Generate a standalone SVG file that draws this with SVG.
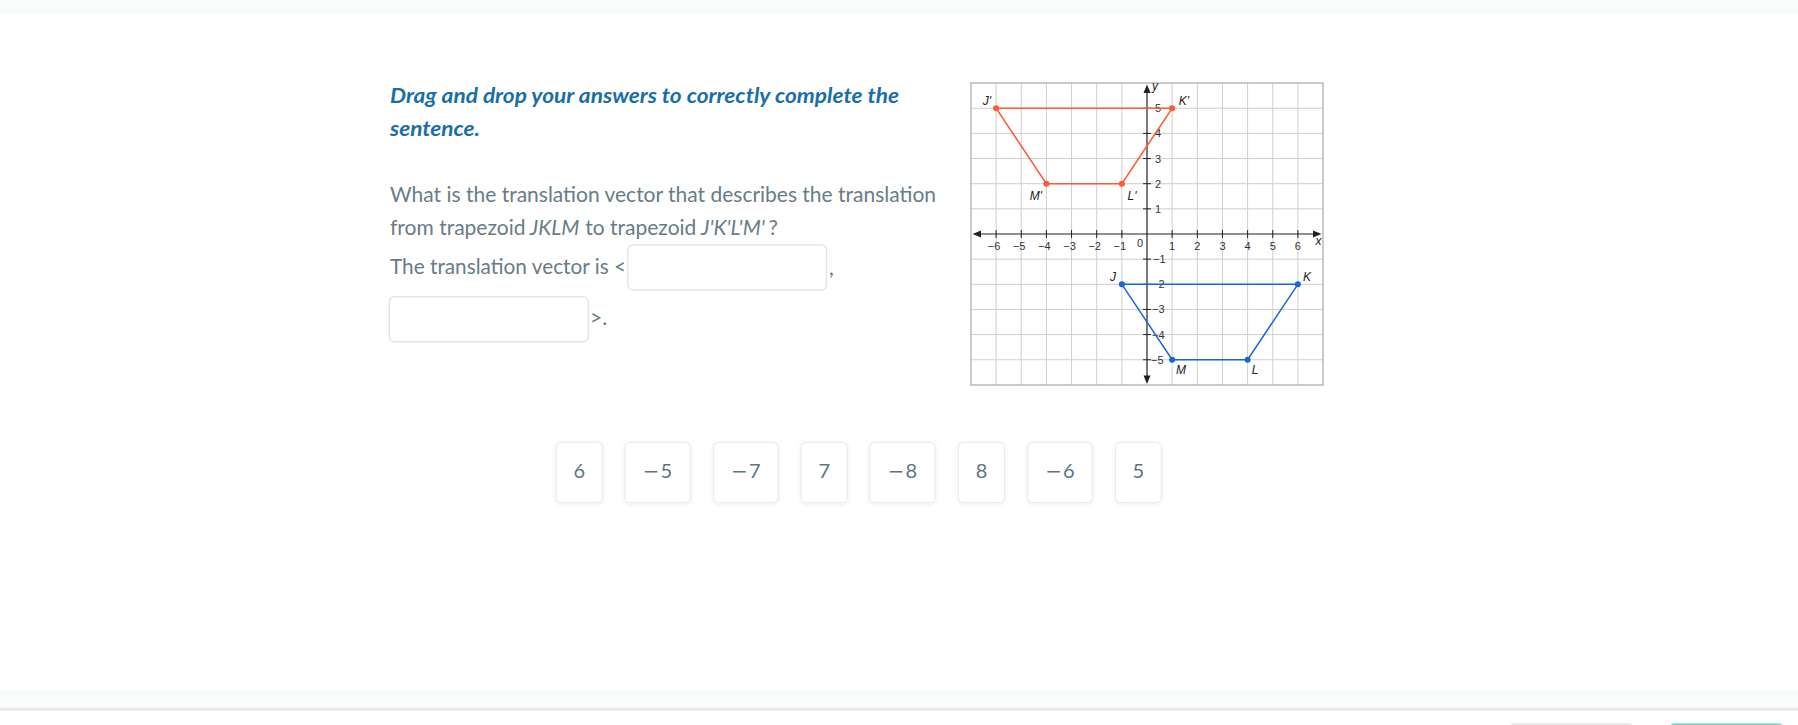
<svg xmlns="http://www.w3.org/2000/svg" width="1798" height="725" viewBox="0 0 1798 725">
<defs>
<style>
.title{font-family:Lato,"Open Sans",sans-serif;font-weight:bold;font-style:italic;font-size:21px;fill:#1a6ea8}
.q{font-family:Lato,"Open Sans",sans-serif;font-size:21px;fill:#687c86}
.it{font-style:italic}
.box{fill:#fff;stroke:#e4e6e6;stroke-width:1.5}
.tile{fill:#fff;stroke:#ececec;stroke-width:1.2;filter:url(#sh)}
.tt{font-family:Lato,"Open Sans",sans-serif;font-size:20px;fill:#5f7480;text-anchor:middle}
.mn{font-family:"DejaVu Sans",sans-serif}
.grid{stroke:#cfcfcf;stroke-width:1;fill:none}
.ax{stroke:#222;stroke-width:1.2;fill:none}
.tick{stroke:#222;stroke-width:1}
.num{font-family:"Liberation Sans",Arial,sans-serif;font-size:11px;fill:#333}
.lbl{font-family:"Liberation Sans",Arial,sans-serif;font-size:12px;font-style:italic;fill:#222;text-anchor:middle}
.red{stroke:#ff5a36;stroke-width:1.5;fill:none}
.blue{stroke:#1a66d6;stroke-width:1.5;fill:none}
</style>
<filter id="sh" x="-20%" y="-20%" width="140%" height="140%">
<feDropShadow dx="0" dy="1" stdDeviation="2" flood-color="#000" flood-opacity="0.08"/>
</filter>
</defs>
<rect x="0" y="0" width="1798" height="725" fill="#fff"/>
<rect x="0" y="0" width="1798" height="14" fill="#fafcfb"/>
<rect x="0" y="690" width="1798" height="18" fill="#fafcfb"/>
<rect x="0" y="707.7" width="1798" height="3" fill="#e8e8e8"/>
<rect x="1510" y="723.3" width="123" height="10" rx="4" fill="#e9e9e9"/>
<rect x="1670" y="723.3" width="113" height="10" rx="4" fill="#80d8cb"/>

<g id="prompt">
<text class="title" x="390" y="103.3" textLength="509" lengthAdjust="spacingAndGlyphs">Drag and drop your answers to correctly complete the</text>
<text class="title" x="390" y="135.7" textLength="90" lengthAdjust="spacingAndGlyphs">sentence.</text>
<text class="q" x="390" y="202.3" textLength="546" lengthAdjust="spacingAndGlyphs">What is the translation vector that describes the translation</text>
<text class="q" y="235"><tspan x="390">from trapezoid</tspan><tspan class="it" x="529.8">JKLM</tspan><tspan x="585.3">to trapezoid</tspan><tspan class="it" x="701">J'K'L'M'</tspan><tspan x="768.4">?</tspan></text>
<text class="q" x="390" y="274" textLength="236" lengthAdjust="spacingAndGlyphs">The translation vector is &lt;</text>
<text class="q" x="829" y="275">,</text>
<text class="q" x="590" y="325">&gt;.</text>
</g>
<g id="blank1"><rect class="box" x="627.8" y="245" width="198.7" height="45" rx="5"/></g>
<g id="blank2"><rect class="box" x="389.2" y="296.7" width="199.1" height="45" rx="5"/></g>

<g id="tiles">
<g id="t1"><rect class="tile" x="556.3" y="442.3" width="46.1" height="60.4" rx="5"/><text class="tt" x="579.4" y="477.7">6</text></g>
<g id="t2"><rect class="tile" x="624.9" y="442.3" width="65.3" height="60.4" rx="5"/><text class="tt" x="657.5" y="477.7"><tspan class="mn">−</tspan><tspan dx="1">5</tspan></text></g>
<g id="t3"><rect class="tile" x="713.5" y="442.3" width="64.5" height="60.4" rx="5"/><text class="tt" x="745.8" y="477.7"><tspan class="mn">−</tspan><tspan dx="1">7</tspan></text></g>
<g id="t4"><rect class="tile" x="801.2" y="442.3" width="46.1" height="60.4" rx="5"/><text class="tt" x="824.3" y="477.7">7</text></g>
<g id="t5"><rect class="tile" x="869.8" y="442.3" width="65.3" height="60.4" rx="5"/><text class="tt" x="902.5" y="477.7"><tspan class="mn">−</tspan><tspan dx="1">8</tspan></text></g>
<g id="t6"><rect class="tile" x="958.4" y="442.3" width="46.1" height="60.4" rx="5"/><text class="tt" x="981.5" y="477.7">8</text></g>
<g id="t7"><rect class="tile" x="1027.8" y="442.3" width="64.4" height="60.4" rx="5"/><text class="tt" x="1060" y="477.7"><tspan class="mn">−</tspan><tspan dx="1">6</tspan></text></g>
<g id="t8"><rect class="tile" x="1115.5" y="442.3" width="45.7" height="60.4" rx="5"/><text class="tt" x="1138.4" y="477.7">5</text></g>
</g>

<g id="graph">
<g class="grid">
<path d="M996.1 83V385M1021.25 83V385M1046.4 83V385M1071.55 83V385M1096.7 83V385M1121.85 83V385M1172.15 83V385M1197.3 83V385M1222.45 83V385M1247.6 83V385M1272.75 83V385M1297.9 83V385"/>
<path d="M971 108.25H1323M971 133.4H1323M971 158.55H1323M971 183.7H1323M971 208.85H1323M971 259.15H1323M971 284.3H1323M971 309.45H1323M971 334.6H1323M971 359.75H1323"/>
</g>
<rect x="971" y="83" width="352" height="302" fill="none" stroke="#a9a9a9" stroke-width="1.2"/>
<g id="axes">
<path class="ax" d="M978 234H1316M1147 91V377"/>
<path d="M972.5 234L981 230.5V237.5Z M1321.5 234L1313 230.5V237.5Z M1147 84.5L1143.5 93H1150.5Z M1147 384L1143.5 375.5H1150.5Z" fill="#222"/>
<path class="tick" d="M996.1 230V238M1021.25 230V238M1046.4 230V238M1071.55 230V238M1096.7 230V238M1121.85 230V238M1172.15 230V238M1197.3 230V238M1222.45 230V238M1247.6 230V238M1272.75 230V238M1297.9 230V238"/>
<path class="tick" d="M1143 108.25H1151M1143 133.4H1151M1143 158.55H1151M1143 183.7H1151M1143 208.85H1151M1143 259.15H1151M1143 284.3H1151M1143 309.45H1151M1143 334.6H1151M1143 359.75H1151"/>
</g>
<g id="xlabels" class="num" text-anchor="middle">
<text x="994" y="250">−6</text><text x="1019.2" y="250">−5</text><text x="1044.4" y="250">−4</text><text x="1069.5" y="250">−3</text><text x="1094.7" y="250">−2</text><text x="1119.8" y="250">−1</text>
<text x="1140" y="247">0</text>
<text x="1172.15" y="250">1</text><text x="1197.3" y="250">2</text><text x="1222.45" y="250">3</text><text x="1247.6" y="250">4</text><text x="1272.75" y="250">5</text><text x="1297.9" y="250">6</text>
</g>
<g id="ylabels" class="num">
<text x="1155" y="112.2">5</text><text x="1155" y="137.4">4</text><text x="1155" y="162.5">3</text><text x="1155" y="187.7">2</text><text x="1155" y="212.8">1</text>
<text x="1153" y="263.1">−1</text><text x="1152" y="288.3">−2</text><text x="1152" y="313.4">−3</text><text x="1152" y="338.6">−4</text><text x="1151" y="363.7">−5</text>
</g>
<text class="lbl" x="1318.5" y="245" font-size="11">x</text>
<text class="lbl" x="1155" y="89.5" font-size="11">y</text>

<g id="JpKpLpMp">
<polygon class="red" points="996.1,108.25 1172.15,108.25 1121.85,183.7 1046.4,183.7"/>
<g fill="#ff5a36"><circle cx="996.1" cy="108.25" r="3"/><circle cx="1172.15" cy="108.25" r="3"/><circle cx="1121.85" cy="183.7" r="3"/><circle cx="1046.4" cy="183.7" r="3"/></g>
<text class="lbl" x="987" y="105">J'</text>
<text class="lbl" x="1184" y="105">K'</text>
<text class="lbl" x="1036" y="200">M'</text>
<text class="lbl" x="1132" y="200">L'</text>
</g>
<g id="JKLM">
<polygon class="blue" points="1121.85,284.3 1297.9,284.3 1247.6,359.75 1172.15,359.75"/>
<g fill="#1a66d6"><circle cx="1121.85" cy="284.3" r="3"/><circle cx="1297.9" cy="284.3" r="3"/><circle cx="1247.6" cy="359.75" r="3"/><circle cx="1172.15" cy="359.75" r="3"/></g>
<text class="lbl" x="1113" y="281">J</text>
<text class="lbl" x="1307" y="281">K</text>
<text class="lbl" x="1181" y="374">M</text>
<text class="lbl" x="1255" y="374">L</text>
</g>
</g>
</svg>
